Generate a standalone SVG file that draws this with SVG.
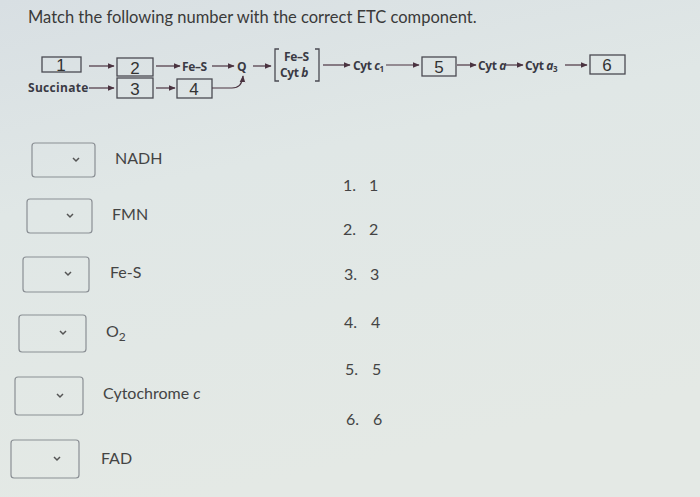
<svg xmlns="http://www.w3.org/2000/svg" width="700" height="497" viewBox="0 0 700 497">
<defs>
<linearGradient id="bg" x1="0" y1="0" x2="0.3" y2="1">
<stop offset="0" stop-color="#d8dfe3"/>
<stop offset="0.4" stop-color="#e0e7e6"/>
<stop offset="1" stop-color="#e4e9e5"/>
</linearGradient>
<marker id="ah" viewBox="0 0 10 10" refX="9" refY="5" markerWidth="7" markerHeight="7" markerUnits="userSpaceOnUse" orient="auto">
<path d="M0,1 L10,5 L0,9 Z" fill="#4a3340"/>
</marker>
<style>
.t{font-family:Lato,"Open Sans","Liberation Sans",sans-serif;fill:#3a3a3a}
.lbl{font-size:16px;fill:#444}
.num{font-size:16px;fill:#444}
.d{font-family:"Open Sans","Liberation Sans",sans-serif;font-weight:bold;font-size:12px;fill:#3a3a44;letter-spacing:-0.4px}
.bx{fill:none;stroke:#4a4a52;stroke-width:1.3}
.bn{font-family:"Liberation Sans",Arial,sans-serif;font-size:17px;fill:#333;text-anchor:middle}
.ar{fill:none;stroke:#4a3340;stroke-width:1.2;marker-end:url(#ah)}
.dd{fill:none;stroke:#8a8f94;stroke-width:1.2}
.cv{fill:none;stroke:#555;stroke-width:1.5}
</style>
</defs>
<rect width="700" height="497" fill="url(#bg)"/>
<text class="t" x="28" y="23" font-size="16.5">Match the following number with the correct ETC component.</text>

<g id="box1"><rect class="bx" x="42" y="57" width="39" height="15"/><text class="bn" x="61" y="71">1</text></g>
<g id="box2"><rect class="bx" x="117" y="58" width="36" height="18"/><text class="bn" x="135" y="74">2</text></g>
<g id="box3"><rect class="bx" x="117" y="78" width="36" height="20"/><text class="bn" x="135" y="95">3</text></g>
<g id="box4"><rect class="bx" x="177" y="79" width="35" height="19"/><text class="bn" x="194" y="95">4</text></g>
<g id="succinate"><text class="d" x="28" y="92" textLength="60">Succinate</text></g>
<g id="fes"><text class="d" x="182" y="71">Fe–S</text></g>
<g id="q"><text class="d" x="237" y="71">Q</text></g>
<g id="fescytb">
<path class="bx" d="M279,49 L275,49 L275,81 L279,81 M315,49 L319,49 L319,81 L315,81" stroke-width="1.3"/>
<text class="d" x="284" y="61" font-size="9.5">Fe–S</text>
<text class="d" x="280" y="77" font-size="9.5">Cyt <tspan font-style="italic">b</tspan></text>
</g>
<g id="cytc1"><text class="d" x="353" y="70">Cyt <tspan font-style="italic">c</tspan><tspan font-size="8" dy="2">1</tspan></text></g>
<g id="box5"><rect class="bx" x="422" y="57" width="34" height="19"/><text class="bn" x="439" y="73">5</text></g>
<g id="cyta"><text class="d" x="478" y="70">Cyt <tspan font-style="italic">a</tspan></text></g>
<g id="cyta3"><text class="d" x="525" y="70">Cyt <tspan font-style="italic">a</tspan><tspan font-size="8" dy="2">3</tspan></text></g>
<g id="box6"><rect class="bx" x="590" y="55" width="35" height="19"/><text class="bn" x="607" y="71">6</text></g>

<g id="connectors">
<line class="ar" x1="89" y1="66" x2="114" y2="66"/>
<line class="ar" x1="89" y1="88" x2="114" y2="88"/>
<line class="ar" x1="156" y1="66" x2="180" y2="66"/>
<line class="ar" x1="156" y1="88" x2="175" y2="88"/>
<line class="ar" x1="212" y1="66" x2="234" y2="66"/>
<line class="ar" x1="253" y1="66" x2="271" y2="66"/>
<path class="ar" d="M212,88 L232,88 Q242,88 243,76"/>
<line class="ar" x1="323" y1="65" x2="350" y2="65"/>
<line class="ar" x1="386" y1="65" x2="419" y2="65"/>
<line class="ar" x1="457" y1="65" x2="476" y2="65"/>
<line class="ar" x1="505" y1="65" x2="523" y2="65"/>
<line class="ar" x1="565" y1="65" x2="587" y2="65"/>
</g>

<g id="dd1"><rect class="dd" x="32" y="143" width="63" height="34" rx="3"/><path class="cv" d="M73,158 L76,161 L79,158"/><text class="t lbl" x="115" y="164">NADH</text></g>
<g id="dd2"><rect class="dd" x="27" y="199" width="65" height="34" rx="3"/><path class="cv" d="M67,214 L70,217 L73,214"/><text class="t lbl" x="112" y="220">FMN</text></g>
<g id="dd3"><rect class="dd" x="23" y="257" width="66" height="35" rx="3"/><path class="cv" d="M65,272 L68,275 L71,272"/><text class="t lbl" x="110" y="278">Fe-S</text></g>
<g id="dd4"><rect class="dd" x="19" y="315" width="67" height="37" rx="3"/><path class="cv" d="M60,331 L63,334 L66,331"/><text class="t lbl" x="106" y="337">O<tspan font-size="12" dy="4">2</tspan></text></g>
<g id="dd5"><rect class="dd" x="15" y="377" width="68" height="38" rx="3"/><path class="cv" d="M57,394 L60,397 L63,394"/><text class="t lbl" x="103" y="399">Cytochrome <tspan font-style="italic">c</tspan></text></g>
<g id="dd6"><rect class="dd" x="11" y="440" width="68" height="38" rx="3"/><path class="cv" d="M54,457 L57,460 L60,457"/><text class="t lbl" x="101" y="464">FAD</text></g>

<g id="list">
<text class="t num" x="343" y="191">1.</text><text class="t num" x="369" y="191">1</text>
<text class="t num" x="343" y="235">2.</text><text class="t num" x="369" y="235">2</text>
<text class="t num" x="344" y="280">3.</text><text class="t num" x="370" y="280">3</text>
<text class="t num" x="344" y="328">4.</text><text class="t num" x="371" y="328">4</text>
<text class="t num" x="345" y="375">5.</text><text class="t num" x="372" y="375">5</text>
<text class="t num" x="346" y="425">6.</text><text class="t num" x="373" y="425">6</text>
</g>
</svg>
